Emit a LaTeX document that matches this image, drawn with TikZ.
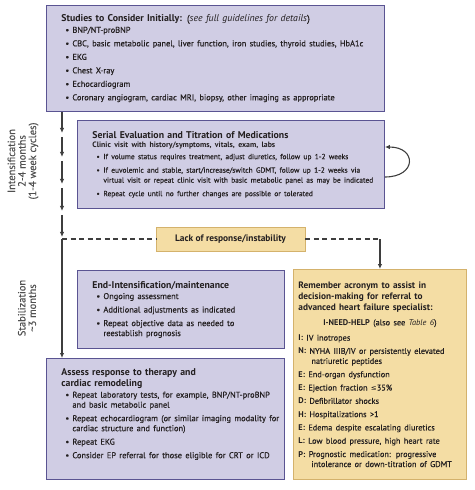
\documentclass[tikz,border=0pt]{standalone}
\usepackage{fontspec}
\setmainfont{PT Sans}[UprightFeatures={FakeBold=0.4}]
\newfontfamily\symfont{DejaVu Sans}
\usetikzlibrary{arrows.meta, calc, positioning}

\definecolor{lavfill}{RGB}{208,205,228}
\definecolor{lavline}{RGB}{90,84,146}
\definecolor{yelfill}{RGB}{244,221,164}
\definecolor{yelline}{RGB}{212,178,108}
\definecolor{inktext}{RGB}{35,31,32}
\definecolor{wire}{RGB}{62,62,62}
\definecolor{sidegray}{RGB}{80,80,80}

% heading, bullet item and acronym line inside the boxes
\newcommand{\hd}[1]{{\fontsize{9.8}{10.8}\selectfont\bfseries #1\par}}
\newcommand{\bul}[1]{{\hangindent=11pt\hangafter=1\hspace*{4pt}\makebox[7pt][l]{\textbullet}#1\par}}
\newcommand{\acr}[2]{{\hangindent=13pt\hangafter=1\textbf{#1:} #2\par}}

\tikzset{
    base-box/.style={
        line width=0.9pt, anchor=north west, align=left, inner xsep=1pt, text=inktext
    },
    lav-box/.style={
        base-box, draw=lavline, fill=lavfill,
        execute at begin node={\fontsize{8.4}{10}\selectfont\leftskip=14pt\parskip=3.5pt\hyphenpenalty=10000\relax}
    },
    help-box/.style={
        base-box, draw=yelline, fill=yelfill,
        execute at begin node={\fontsize{8.3}{10}\selectfont\leftskip=4pt\parskip=3.3pt\hyphenpenalty=10000\relax}
    },
    lack-box/.style={
        draw=yelline, fill=yelfill, line width=0.9pt, minimum width=149pt, minimum height=24pt,
        text=inktext, font=\fontsize{9.4}{10}\selectfont\bfseries
    },
    flow/.style={
        draw=wire, line width=1.1pt, -{Latex[length=5pt,width=4.5pt]}
    },
    dash-flow/.style={
        draw=wire, line width=1.1pt, dash pattern=on 5pt off 3.5pt
    },
    side-label/.style={
        rotate=90, align=center, text=sidegray, font=\fontsize{10.5}{10.5}\selectfont
    },
}

\begin{document}
\begin{tikzpicture}[x=1pt, y=-1pt]

        \useasboundingbox (0,0) rectangle (474,490);

        % SIDE LABELS
        \node[side-label] (intlabel)  at (23,161) {Intensification\\2-4 months\\(1-4 week cycles)};
        \node[side-label] (stablabel) at (27,308) {Stabilization\\\textasciitilde3 months};

        % INITIAL STUDIES
        \node[lav-box, text width=336pt, minimum height=106pt] (studies) at (46,5) {
            \hd{Studies to Consider Initially: {\mdseries(\textit{see full guidelines for details})}}
            \vspace{-2.5pt}
            \bul{BNP/NT-proBNP}
            \bul{CBC, basic metabolic panel, liver function, iron studies, thyroid studies, HbA1c}
            \bul{EKG}
            \bul{Chest X-ray}
            \bul{Echocardiogram}
            \bul{Coronary angiogram, cardiac MRI, biopsy, other imaging as appropriate}
        };

        % SERIAL EVALUATION
        \node[lav-box, text width=305pt, minimum height=88pt] (serial) at (77,120) {
            \hd{Serial Evaluation and Titration of Medications}
            \vspace{-4.5pt}
            {\fontsize{7.8}{10}\selectfont\bfseries Clinic visit with history/symptoms, vitals, exam, labs\par}
            \vspace{-1.5pt}
            \fontsize{7.4}{10}\selectfont
            \bul{If volume status requires treatment, adjust diuretics, follow up 1-2 weeks}
            \bul{If euvolemic and stable, start/increase/switch GDMT, follow up 1-2 weeks via\newline virtual visit or repeat clinic visit with basic metabolic panel as may be indicated}
            \bul{Repeat cycle until no further changes are possible or tolerated}
        };

        % LACK OF RESPONSE
        \node[lack-box] (lack) at (230.5,239) {Lack of response/instability};

        % END-INTENSIFICATION
        \node[lav-box, text width=205pt, minimum height=78pt] (endint) at (77,270) {
            \hd{End-Intensification/maintenance}
            \vspace{-2.5pt}
            \bul{Ongoing assessment}
            \bul{Additional adjustments as indicated}
            \bul{Repeat objective data as needed to\newline reestablish prognosis}
        };

        % ASSESS RESPONSE
        \node[lav-box, text width=236pt, minimum height=121pt] (assess) at (46,358) {
            \hd{Assess response to therapy and\newline cardiac remodeling}
            \vspace{-2.5pt}
            \bul{Repeat laboratory tests, for example, BNP/NT-proBNP\newline and basic metabolic panel}
            \bul{Repeat echocardiogram (or similar imaging modality for\newline cardiac structure and function)}
            \bul{Repeat EKG}
            \bul{Consider EP referral for those eligible for CRT or ICD}
            \vspace{9pt}
        };

        % REFERRAL ACRONYM
        \node[help-box, text width=171pt, minimum height=210pt] (refer) at (293,269) {
            {\fontsize{9.3}{10.8}\selectfont\bfseries Remember acronym to assist in\newline decision-making for referral to\newline advanced heart failure specialist:\par}
            \vspace{2pt}
            {\centering\textbf{I-NEED-HELP} (also see \textit{Table 6})\par}
            \vspace{2pt}
            \acr{I}{IV inotropes}
            \acr{N}{NYHA IIIB/IV or persistently elevated\newline natriuretic peptides}
            \acr{E}{End-organ dysfunction}
            \acr{E}{Ejection fraction {\symfont\fontsize{7}{10}\selectfont≤}35\%}
            \acr{D}{Defibrillator shocks}
            \acr{H}{Hospitalizations >1}
            \acr{E}{Edema despite escalating diuretics}
            \acr{L}{Low blood pressure, high heart rate}
            \acr{P}{Prognostic medication: progressive\newline intolerance or down-titration of GDMT}
        };

        % CYCLE ARROWS ALONG THE TIME LINE
        \coordinate (railtop) at ($(studies.south west)+(16,0)$);
        \foreach \a/\b in {0/21, 25/45, 49/72, 76/99, 103/125}
            \draw[flow] ($(railtop)+(0,\a)$) -- ($(railtop)+(0,\b)$);
        \coordinate (junc) at (railtop |- lack.west);
        \draw[flow] (junc) -- (railtop |- assess.north);

        % REPEAT LOOP
        \coordinate (loopout) at ($(serial.north east)+(0,57)$);
        \coordinate (loopin)  at ($(serial.north east)+(0,27)$);
        \draw[flow] (loopout) .. controls +(32,0) and +(32,0) .. (loopin);

        % ESCALATION PATH
        \coordinate (corner) at (lack.east -| refer.north);
        \draw[dash-flow] (junc) -- (lack.west);
        \draw[dash-flow] (lack.east) -- (corner);
        \draw[flow] (corner) -- (refer.north);

\end{tikzpicture}
\end{document}
